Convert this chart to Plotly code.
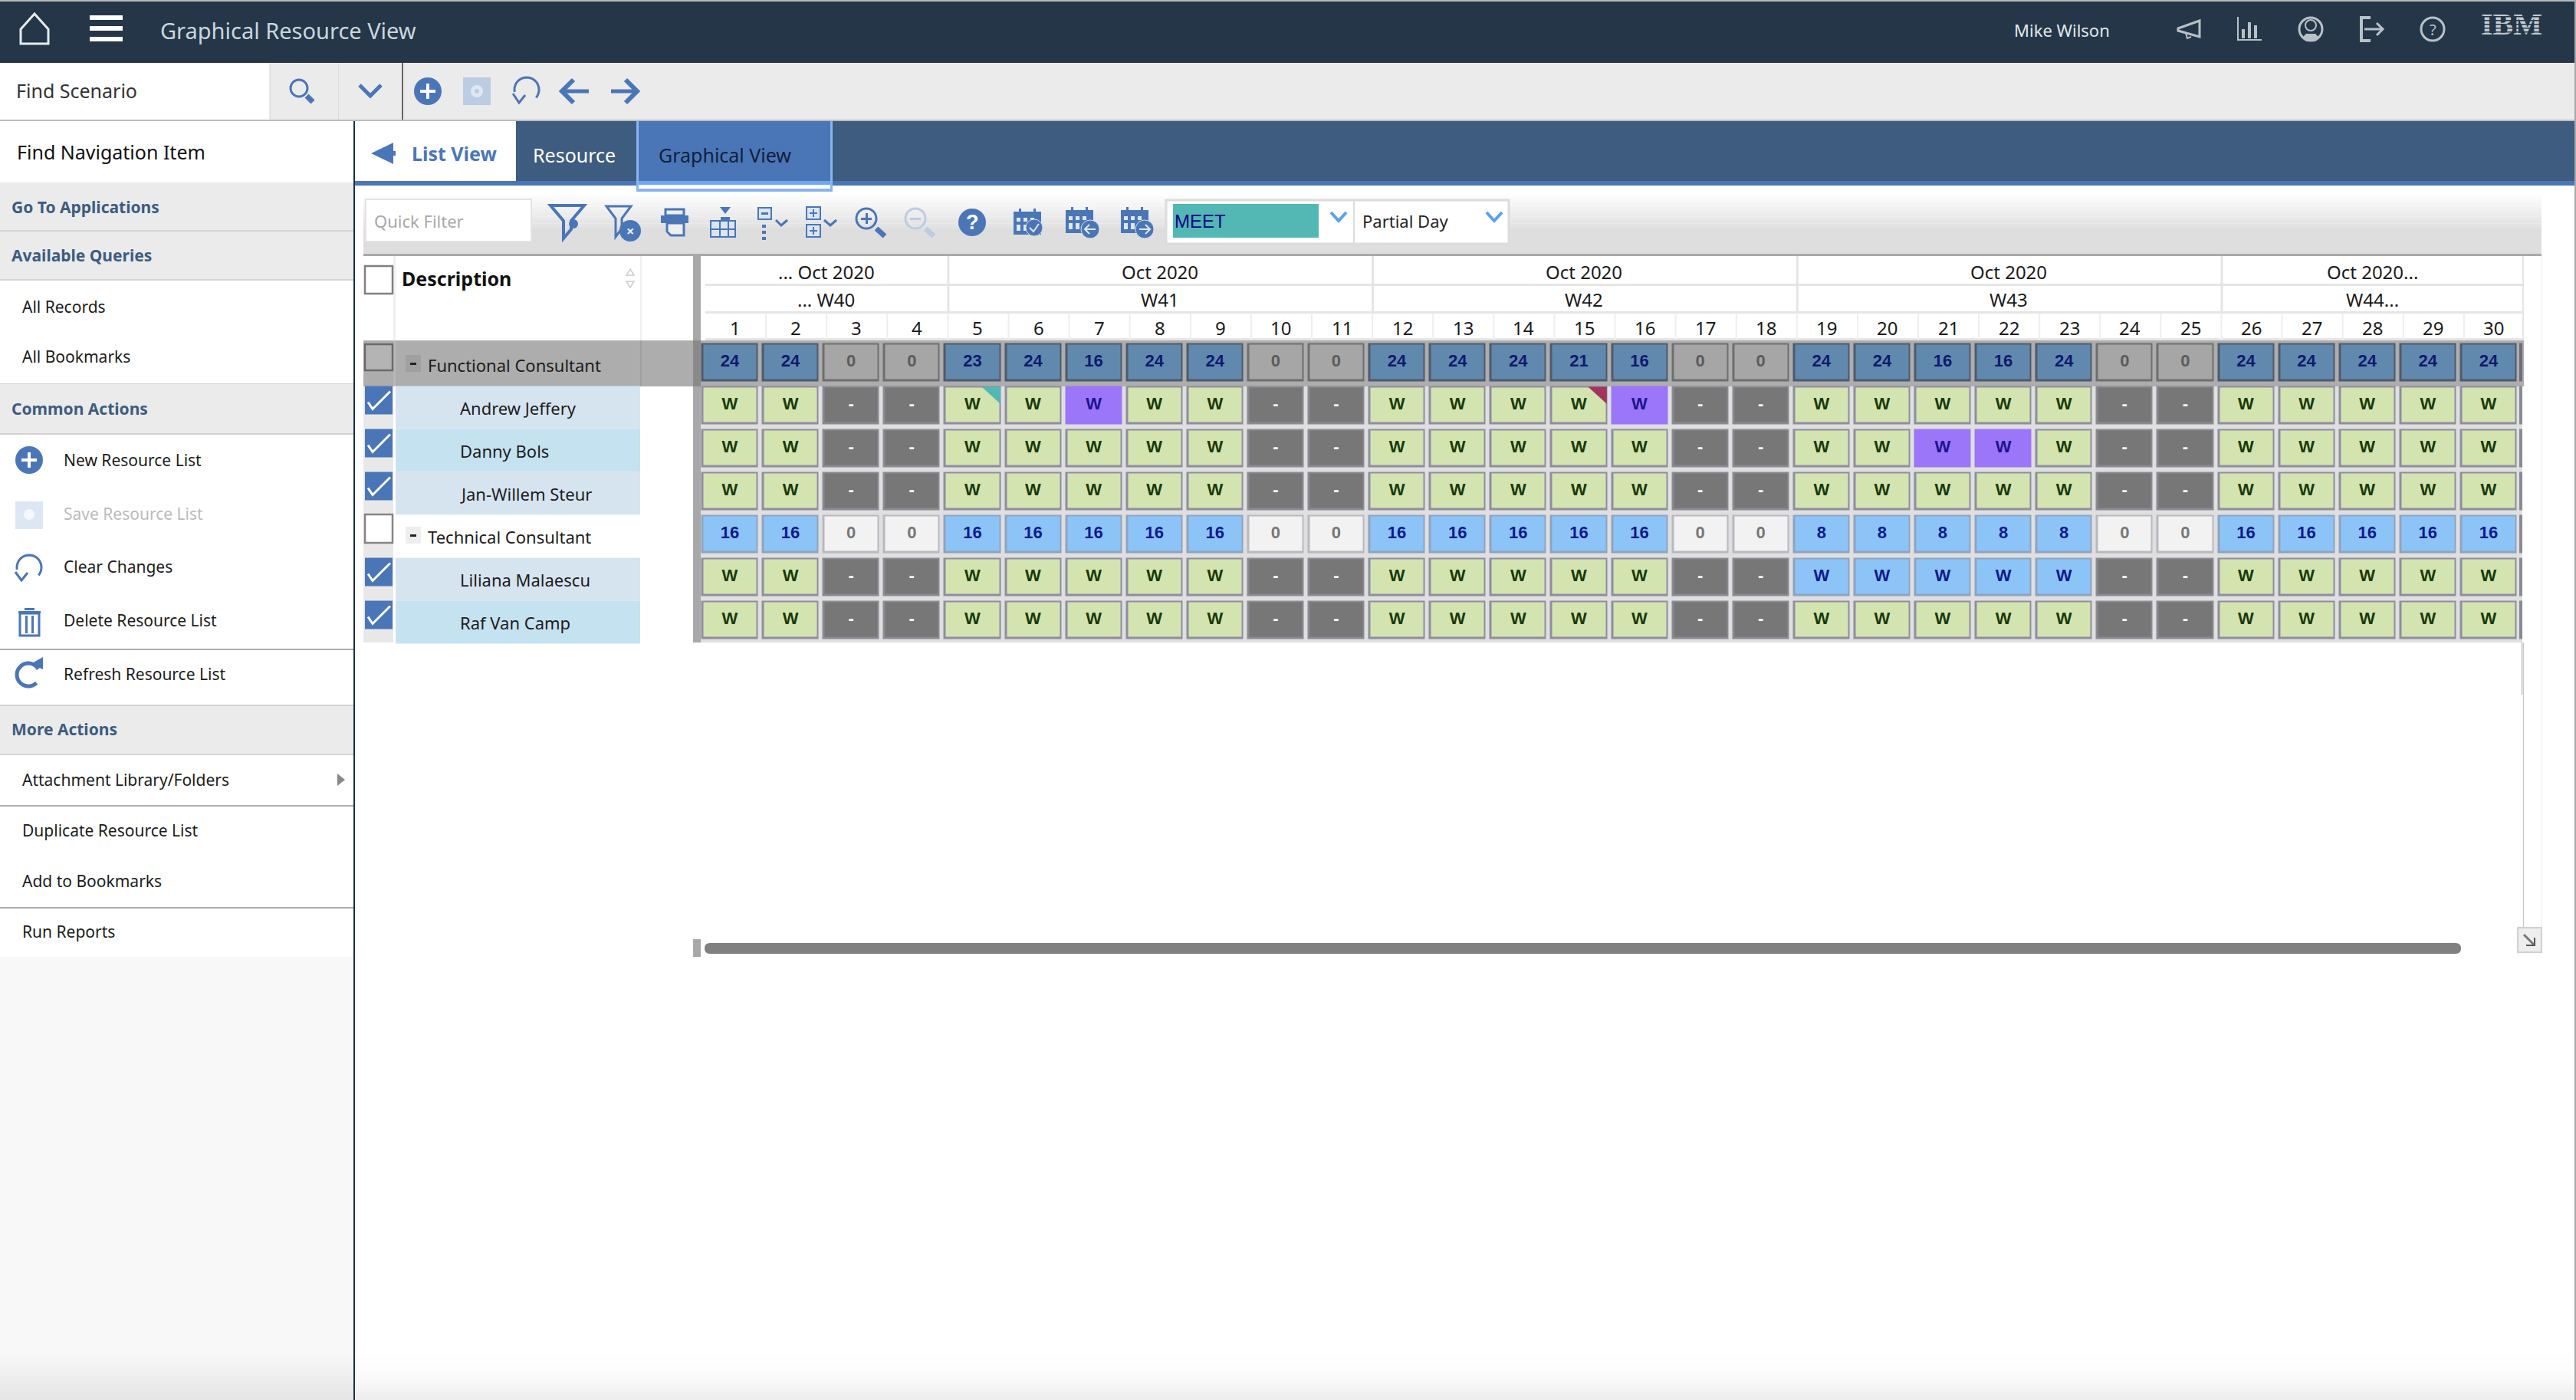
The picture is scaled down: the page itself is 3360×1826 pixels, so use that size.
import numpy as np
import plotly.graph_objects as go

# ---- chart data ----
days = list(range(1, 31))
month_labels = ["... Oct 2020", "Oct 2020", "Oct 2020", "Oct 2020", "Oct 2020..."]
week_labels = ["... W40", "W41", "W42", "W43", "W44..."]
month_spans = [(1, 4), (5, 11), (12, 18), (19, 25), (26, 30)]

row_names = ["Functional Consultant", "Andrew Jeffery", "Danny Bols", "Jan-Willem Steur",
             "Technical Consultant", "Liliana Malaescu", "Raf Van Camp"]
functional = [24, 24, 0, 0, 23, 24, 16, 24, 24, 0, 0, 24, 24, 24, 21, 16, 0, 0,
              24, 24, 16, 16, 24, 0, 0, 24, 24, 24, 24, 24]
technical = [16, 16, 0, 0, 16, 16, 16, 16, 16, 0, 0, 16, 16, 16, 16, 16, 0, 0,
             8, 8, 8, 8, 8, 0, 0, 16, 16, 16, 16, 16]
# W working, - off, M meeting (purple), B booked (blue)
andrew = list("WW--WWMWW--WWWWM--WWWWW--WWWWW")
danny = list("WW--WWWWW--WWWWW--WWMMW--WWWWW")
jan = list("WW--WWWWW--WWWWW--WWWWW--WWWWW")
liliana = list("WW--WWWWW--WWWWW--BBBBB--WWWWW")
raf = list("WW--WWWWW--WWWWW--WWWWW--WWWWW")
flags = [("Andrew Jeffery", 5, "#53b8b4"), ("Andrew Jeffery", 15, "#a2355f")]

nav_sections = ["Go To Applications", "Available Queries", "Common Actions", "More Actions"]
nav_items = ["All Records", "All Bookmarks", "New Resource List", "Save Resource List", "Clear Changes",
             "Delete Resource List", "Refresh Resource List", "Attachment Library/Folders",
             "Duplicate Resource List", "Add to Bookmarks", "Run Reports"]

# ---- colours ----
BLUE = "#4a76b8"
PALE = "#bccde3"
BAR = "#243648"
TAB = "#3d5c80"
UI_FONT = "Noto Sans"
CELL_FONT = "Liberation Sans"

# state code -> fill, border, text colour
states = [("#d3e4b0", "#8f8d9f", "#1a3a0a"),   # W
          ("#777777", "#8a8a94", "#ffffff"),   # off
          ("#9b76f8", "#9b76f8", "#1c1590"),   # meeting
          ("#8cc4f8", "#8fa3c0", "#0e1a8c"),   # technical / booked
          ("#f2f2f2", "#b8b8c0", "#777777"),   # technical zero
          ("#6189ae", "#4f5a6a", "#0e1a6e"),   # functional
          ("#a6a6a6", "#6e6e6e", "#5c5c5c")]   # functional zero


def avail_codes(row):
    return [{"W": 0, "-": 1, "M": 2, "B": 3}[c] for c in row]


z = [[5 if v else 6 for v in functional],
     avail_codes(andrew), avail_codes(danny), avail_codes(jan),
     [3 if v else 4 for v in technical],
     avail_codes(liliana), avail_codes(raf)]
labels = [[str(v) for v in functional],
          ["W" if c != "-" else "-" for c in andrew],
          ["W" if c != "-" else "-" for c in danny],
          ["W" if c != "-" else "-" for c in jan],
          [str(v) for v in technical],
          ["W" if c != "-" else "-" for c in liliana],
          ["W" if c != "-" else "-" for c in raf]]

# ---- page geometry ----
W, H = 3360, 1826
COL = 79.1
ROW = 56
COL0 = 952
ROW0 = 472.5
gx0, gx1 = COL0 - COL / 2, COL0 + COL * 29.5
gy0, gy1 = ROW0 - ROW / 2, ROW0 + ROW * 6.5

shapes = []
notes = []


def rect(x0, y0, x1, y1, fill, line=None, w=0):
    shapes.append(dict(type="rect", xref="x", yref="y", x0=x0, y0=y0, x1=x1, y1=y1, fillcolor=fill,
                       line=dict(color=line or "rgba(0,0,0,0)", width=w), layer="below"))


def circle(cx, cy, r, fill="rgba(0,0,0,0)", line=None, w=0):
    shapes.append(dict(type="circle", xref="x", yref="y", x0=cx - r, y0=cy - r, x1=cx + r, y1=cy + r,
                       fillcolor=fill, line=dict(color=line or "rgba(0,0,0,0)", width=w), layer="below"))


def poly(pts, color=BLUE, w=3, fill=None, close=False):
    d = "M" + " L".join(f"{x:.1f},{y:.1f}" for x, y in pts) + (" Z" if close else "")
    shapes.append(dict(type="path", xref="x", yref="y", path=d, fillcolor=fill or "rgba(0,0,0,0)",
                       line=dict(color=color if w else "rgba(0,0,0,0)", width=w), layer="below"))


def arc(cx, cy, r, a0, a1, n=24):
    a = np.radians(np.linspace(a0, a1, n))
    return list(zip(cx + r * np.cos(a), cy + r * np.sin(a)))


def text(x, y, s, size=22, color="#222222", anchor="left", bold=False, family=UI_FONT):
    notes.append(dict(x=x, y=y, xref="x", yref="y", text=s, showarrow=False, xanchor=anchor, yanchor="middle",
                      font=dict(size=size, color=color, family=family, weight=700 if bold else 400)))


def mix(c0, c1, t):
    a = np.array([int(c0[i:i + 2], 16) for i in (1, 3, 5)])
    b = np.array([int(c1[i:i + 2], 16) for i in (1, 3, 5)])
    m = a + (b - a) * t
    return "rgb(%d,%d,%d)" % tuple(m)


# ---- top bars ----
rect(0, 0, W, 82, BAR)
rect(0, 0, W, 2, "#b8b8b8")
rect(0, 82, W, 156, "#ebebeb")
rect(0, 82, 351, 156, "#ffffff")
rect(0, 156, W, 158, "#bdbdbd")
rect(352, 82, 353, 156, "#dddddd")
rect(441, 82, 442, 156, "#dddddd")
rect(524, 82, 526, 156, "#666666")
rect(461, 158, W, 236, TAB)
rect(461, 158, 673, 236, "#ffffff")
rect(461, 236, W, 242, BLUE)
rect(830, 158, 1086, 250, "#8ab4f0")
rect(833, 158, 1083, 236, BLUE)
rect(838, 158, 1078, 236, BLUE)
rect(833, 236, 1083, 241, "#6fa8f0")
rect(833, 241, 1083, 246, "#ffffff")

text(207, 39, "Graphical Resource View", 29, "#cbd5de")
text(2625, 39, "Mike Wilson", 22, "#e2e7ec")
text(19, 118, "Find Scenario", 25, "#333333")
text(20, 198, "Find Navigation Item", 25, "#111111")
text(535, 200, "List View", 25, BLUE, bold=True)
text(693, 202, "Resource", 25, "#ffffff")
text(857, 202, "Graphical View", 25, "#10203a")

# home, menu
poly([(27, 57), (27, 38), (45, 18), (63, 38), (63, 57)], "#e8ecef", 3, close=True)
for y in (20, 34, 48):
    rect(117, y, 160, y + 6, "#ffffff")

# top right icons
GREY_ICON = "#b9c1c8"
poly([(2841, 37), (2869, 27), (2869, 48), (2841, 40)], GREY_ICON, 3, close=True)
poly([(2851, 43), (2853, 50), (2858, 48)], GREY_ICON, 2)
poly([(2919, 22), (2919, 52), (2950, 52)], GREY_ICON, 2)
rect(2924, 38, 2928, 50, GREY_ICON)
rect(2932, 29, 2936, 50, GREY_ICON)
rect(2940, 33, 2944, 50, GREY_ICON)
circle(3014, 38, 15, line=GREY_ICON, w=3)
circle(3014, 33, 7, line=GREY_ICON, w=2)
poly([(3003, 49), (3008, 44), (3020, 44), (3025, 49), (3020, 54), (3008, 54)], w=0, fill=GREY_ICON, close=True)
poly([(3092, 23), (3080, 23), (3080, 53), (3092, 53)], GREY_ICON, 4)
poly([(3084, 38), (3108, 38)], GREY_ICON, 3)
poly([(3100, 30), (3108, 38), (3100, 46)], GREY_ICON, 3)
circle(3173, 38, 15, line=GREY_ICON, w=3)
text(3173, 38, "?", 20, GREY_ICON, "center")

# scenario toolbar icons
circle(390, 115, 11, line=BLUE, w=3)
poly([(400, 125), (408, 133)], BLUE, 7)
poly([(469, 111), (483, 125), (497, 111)], BLUE, 5)
circle(558, 119, 18, fill=BLUE)
rect(548, 117, 568, 121, "#ffffff")
rect(556, 109, 560, 129, "#ffffff")
rect(604, 101, 640, 137, PALE)
circle(622, 119, 8, fill="#dfe7f1")
circle(622, 119, 3, fill=PALE)
poly(arc(687, 117, 16, 170, 400), BLUE, 3)
poly([(669, 122), (677, 134), (685, 124)], BLUE, 3)
poly([(733, 119), (768, 119)], BLUE, 5)
poly([(748, 104), (733, 119), (748, 134)], BLUE, 6)
poly([(797, 119), (831, 119)], BLUE, 5)
poly([(816, 104), (831, 119), (816, 134)], BLUE, 6)
poly([(513, 186), (484, 200), (513, 214)], w=0, fill=BLUE, close=True)
poly([(498, 200), (516, 200)], BLUE, 6)

# ---- left navigation ----
rect(0, 158, 461, H, "#f8f8f8")
rect(0, 158, 461, 1248, "#ffffff")
for y0, y1 in [(238, 300), (302, 364), (500, 565), (919, 983)]:
    rect(0, y0, 461, y1, "#ebebeb")
    rect(0, y1, 461, y1 + 2, "#d4d4d4")
rect(0, 919, 461, 921, "#d4d4d4")
rect(0, 500, 461, 501, "#d4d4d4")
for y in (846, 1050, 1183):
    rect(0, y, 461, y + 2, "#aeaeae")
for y in (498, 1248):
    pass
rect(461, 158, 463, H, "#1c2f48")

section_y = [270, 333, 533, 951]
for s, y in zip(nav_sections, section_y):
    text(13, y, s, 21, TAB, bold=True)
item_x = [27, 27, 81, 81, 81, 81, 81, 27, 27, 27, 27]
item_y = [400, 465, 600, 670, 739, 809, 879, 1017, 1083, 1149, 1215]
for s, x, y in zip(nav_items, item_x, item_y):
    text(x, y, s, 21, "#bbbbbb" if s.startswith("Save") else "#1c1c1c")
poly([(440, 1009), (450, 1017), (440, 1025)], w=0, fill="#888888", close=True)

circle(38, 600, 18, fill=BLUE)
rect(28, 598, 48, 602, "#ffffff")
rect(36, 590, 40, 610, "#ffffff")
rect(20, 654, 56, 690, "#dde7f3")
circle(38, 671, 7, fill="#f5f8fb")
poly(arc(38, 740, 16, 170, 400), BLUE, 3)
poly([(20, 746), (28, 757), (36, 747)], BLUE, 3)
rect(26, 800, 51, 829, "#ffffff", BLUE, 3)
rect(24, 797, 53, 800, BLUE)
rect(32, 793, 45, 796, BLUE)
rect(33, 803, 36, 826, BLUE)
rect(41, 803, 44, 826, BLUE)
poly(arc(37, 880, 15, 45, 330), BLUE, 5)
poly([(40, 866), (56, 873), (56, 857)], w=0, fill=BLUE, close=True)

# ---- resource toolbar ----
for i in range(24):
    t = i / 23
    y = 252 + t * 50
    rect(474, y, 3315, y + 2.4, mix("#ffffff", "#dcdcdc", t))
rect(474, 302, 3315, 331, "#dedede")
rect(474, 331, 3315, 334, "#a9a9a9")
rect(477, 260, 693, 315, "#ffffff", "#e3e3e3", 2)
text(486, 288, "Quick Filter", 22, "#a9a9a9")

# filter
poly([(718, 268), (762, 268), (745, 288), (745, 299), (735, 311), (735, 288)], BLUE, 4, close=True)
circle(748, 292, 6, fill=BLUE)
# clear filter
poly([(791, 269), (823, 269), (811, 285), (811, 298), (803, 309), (803, 285)], BLUE, 3, close=True)
circle(822, 301, 14, fill=BLUE)
text(822, 301, "×", 18, "#e8eef7", "center", bold=True)
# print
rect(862, 281, 898, 291, BLUE)
rect(868, 273, 892, 281, "rgba(0,0,0,0)", BLUE, 3)
poly([(870, 291), (870, 302), (875, 307), (892, 307), (892, 291)], BLUE, 3, fill="#eeeeee", close=True)
# hierarchy
poly([(939, 270), (953, 270), (946, 279)], w=0, fill=BLUE, close=True)
rect(927, 288, 959, 309, "#dbe5f2", BLUE, 2)
rect(940, 283, 952, 289, BLUE)
for x in (938, 949):
    rect(x, 288, x + 2, 309, BLUE)
rect(927, 298, 959, 300, BLUE)
# collapse
rect(989, 271, 1006, 286, "#dbe5f2", BLUE, 2)
rect(993, 277, 1002, 280, BLUE)
for y in (293, 301, 309):
    rect(994, y, 999, y + 4, BLUE)
poly([(1012, 287), (1019, 294), (1027, 287)], BLUE, 3)
# expand
for y0 in (270, 293):
    rect(1052, y0, 1070, y0 + 16, "#dbe5f2", BLUE, 2)
    rect(1056, y0 + 7, 1066, y0 + 9, BLUE)
    rect(1060, y0 + 3, 1062, y0 + 13, BLUE)
poly([(1075, 287), (1083, 294), (1091, 287)], BLUE, 3)
# zoom in / out
circle(1130, 285, 13, line=BLUE, w=3)
rect(1123, 284, 1137, 287, BLUE)
rect(1129, 278, 1132, 292, BLUE)
poly([(1143, 298), (1154, 308)], BLUE, 7)
circle(1194, 285, 13, line=PALE, w=3)
rect(1187, 284, 1201, 287, PALE)
poly([(1207, 298), (1218, 308)], PALE, 7)
# help
circle(1268, 290, 18, fill=BLUE)
text(1268, 290, "?", 27, "#ffffff", "center", bold=True, family=CELL_FONT)


# calendars
def calendar(x, y):
    rect(x, y + 4, x + 36, y + 34, BLUE)
    rect(x + 7, y, x + 10, y + 6, BLUE)
    rect(x + 26, y, x + 29, y + 6, BLUE)
    for gx in (4, 13, 22):
        rect(x + gx, y + 12, x + gx + 5, y + 17, "#dfe7f1")
        if gx < 22:
            rect(x + gx, y + 21, x + gx + 5, y + 29, "#dfe7f1")


calendar(1322, 272)
circle(1349, 297, 11, fill=BLUE, line="#dedede", w=1)
poly([(1343, 297), (1348, 302), (1355, 292)], "#dfe7f1", 2)
calendar(1390, 270)
circle(1422, 299, 12, fill=BLUE, line="#dedede", w=1)
poly([(1415, 299), (1429, 299)], "#dfe7f1", 2)
poly([(1421, 293), (1415, 299), (1421, 305)], "#dfe7f1", 2)
calendar(1462, 270)
circle(1493, 299, 12, fill=BLUE, line="#dedede", w=1)
poly([(1486, 299), (1500, 299)], "#dfe7f1", 2)
poly([(1494, 293), (1500, 299), (1494, 305)], "#dfe7f1", 2)

# option boxes
rect(1521, 261, 1968, 318, "#ffffff", "#dcdcdc", 3)
rect(1765, 261, 1767, 318, "#dcdcdc")
rect(1530, 266, 1720, 310, "#53b8b4")
text(1530, 288, "MEET", 24, "#00008b", family=CELL_FONT)
text(1775, 288, "Partial Day", 22, "#222222")
poly([(1736, 277), (1746, 288), (1756, 277)], "#5aa0ef", 4)
poly([(1939, 277), (1949, 288), (1959, 277)], "#5aa0ef", 4)

# ---- grid frame ----
rect(474, 334, 3291, 444, "#ffffff")
rect(474, 334, 513, 444, "#ffffff")
rect(513, 334, 516, 444, "#efefef")
rect(835, 334, 837, 444, "#efefef")
rect(474, 444, 904, 504, "#adadad")
rect(513, 444, 516, 504, "#b8b8b8")
rect(835, 444, 837, 504, "#9f9f9f")
rect(474, 504, 513, 838, "#e8e8e8")
rect(513, 504, 516, 838, "#ffffff")
desc_bg = ["#d6e4f0", "#c5e2f0", "#d6e4f0", "#ffffff", "#d6e4f0", "#c5e2f0"]
for r, c in enumerate(desc_bg):
    top = gy0 + ROW * (r + 1) + 3
    rect(516, top, 835, top + ROW, c)
rect(904, 334, 914, 838, "#a8a8a8")
rect(904, 444, 914, 504, "#8a8a8a")
rect(914, 444, 3292, 504, "#adadad")
rect(914, 504, 3290, 838, "#dfdfdf")
rect(3288, 838, 3291, 906, "#dddddd")
rect(3291, 838, 3292, 1210, "#c8c8c8")
rect(3315, 334, 3316, 1210, "#eeeeee")
rect(3358, 0, 3360, H, "#a8a8a8")

# checkboxes
rect(476, 347, 512, 383, "#ffffff", "#808080", 2.5)
rect(476, 449, 512, 483, "#b4b4b4", "#6a6a6a", 2.5)
rect(476, 671, 512, 708, "#ffffff", "#858585", 2.5)
for r in (1, 2, 3, 5, 6):
    top = gy0 + ROW * r + 3
    rect(476, top, 512, top + 37, BLUE)
    poly([(480, top + 21), (486, top + 30), (509, top + 7)], "#ffffff", 3)

rect(529, 463, 549, 485, "#a0a0a0")
rect(535, 473, 543, 476, "#222222")
rect(529, 687, 549, 709, "#eeeeee")
rect(535, 697, 543, 700, "#222222")
poly([(817, 359), (822, 351), (827, 359)], "#cccccc", 1.5, close=True)
poly([(817, 367), (822, 375), (827, 367)], "#cccccc", 1.5, close=True)

text(522, 363, "Description", 25, "#111111", bold=True)
for r, name in enumerate(row_names):
    y = ROW0 + ROW * r + 3
    x = 556 if "Consultant" in name else 598
    text(x, y, name, 22, "#1c1c1c")

# header rules
HEAD0 = 920
rect(HEAD0, 370, 3291, 373, "#e5e5e5")
rect(HEAD0, 406, 3291, 409, "#e5e5e5")
rect(HEAD0, 441, 3291, 444, "#e5e5e5")
rect(3290, 334, 3292, 444, "#e5e5e5")
for d in days[1:]:
    x = HEAD0 + COL * (d - 1)
    rect(x - 1, 408, x + 1, 444, "#eeeeee")
for first, last in month_spans[1:]:
    x = HEAD0 + COL * (first - 1)
    rect(x - 1, 334, x + 2, 408, "#e5e5e5")

# next day's cell just peeks out past the last column
for r in range(len(row_names)):
    y = ROW0 + ROW * r
    rect(3286, y - 25, 3290, y + 25, "#6e6e78" if r == 0 else "#8a8a94")

# scrollbars
rect(904, 1225, 914, 1248, "#a8a8a8")
shapes.append(dict(type="path", xref="x", yref="y", layer="below", fillcolor="#808080",
                   line=dict(color="rgba(0,0,0,0)", width=0),
                   path="M926,1230 L3203,1230 Q3210,1230 3210,1237 Q3210,1244 3203,1244 L926,1244 "
                        "Q919,1244 919,1237 Q919,1230 926,1230 Z"))
rect(3284, 1210, 3315, 1242, "#eeeeee", "#d0d0d0", 2)
poly([(3292, 1219), (3305, 1232)], "#777777", 3)
poly([(3295, 1233), (3306, 1233), (3306, 1223)], "#555555", 2)

# faint fade along the bottom of the window
for i in range(12):
    t = (i + 1) / 12
    y = 1766 + i * 5
    rect(0, y, 461, y + 5, mix("#f8f8f8", "#e6e6e6", t))
    rect(463, y, 3358, y + 5, mix("#ffffff", "#eeeeee", t * t))

# IBM logo stripes sit above the trace text
for y in range(21, 52, 5):
    shapes.append(dict(type="rect", xref="x", yref="y", x0=3236, x1=3316, y0=y, y1=y + 1.6,
                       fillcolor=BAR, line=dict(color=BAR, width=0), layer="above"))

# ---- header labels, positioned on the day axis ----
for label, week, (first, last) in zip(month_labels, week_labels, month_spans):
    cx = (first + last) / 2 + 7 / COL
    notes.append(dict(x=cx, y=354, xref="x2", yref="y", text=label, showarrow=False, yanchor="middle",
                      font=dict(size=24, color="#1a1a1a", family=UI_FONT)))
    notes.append(dict(x=cx, y=390, xref="x2", yref="y", text=week, showarrow=False, yanchor="middle",
                      font=dict(size=24, color="#1a1a1a", family=UI_FONT)))
for d in days:
    notes.append(dict(x=d + 7 / COL, y=427, xref="x2", yref="y", text=str(d), showarrow=False, yanchor="middle",
                      font=dict(size=24, color="#1a1a1a", family=UI_FONT)))

# ---- figure ----
fig = go.Figure()
rows_idx = list(range(len(row_names)))


def scale(i):
    return [[k / (len(states) - 1), s[i]] for k, s in enumerate(states)]


# border layer, then the fill layer with wider gaps
for cscale, xgap, ygap in [(scale(1), 5, 6), (scale(0), 10, 11)]:
    fig.add_trace(go.Heatmap(x=days, y=rows_idx, z=z, zmin=0, zmax=len(states) - 1, colorscale=cscale,
                             xgap=xgap, ygap=ygap, showscale=False, hoverinfo="skip", xaxis="x2", yaxis="y2"))

xs, ys, ts, cs = [], [], [], []
for r in rows_idx:
    for k, d in enumerate(days):
        xs.append(d)
        ys.append(r)
        ts.append(labels[r][k])
        cs.append(states[z[r][k]][2])
fig.add_trace(go.Scatter(x=xs, y=ys, text=ts, mode="text", textposition="middle center",
                         textfont=dict(size=22, color=cs, family=CELL_FONT, weight=700),
                         hoverinfo="skip", showlegend=False, xaxis="x2", yaxis="y2"))

# corner flags on a few cells
for name, day, colour in flags:
    r = row_names.index(name)
    fig.add_trace(go.Scatter(x=[day + 0.15, day + 0.46, day + 0.46, day + 0.15], y=[r - 0.43, r - 0.43, r - 0.03, r - 0.43],
                             mode="lines", fill="toself", fillcolor=colour, line=dict(width=0, color=colour),
                             hoverinfo="skip", showlegend=False, xaxis="x2", yaxis="y2"))

fig.add_trace(go.Scatter(x=[3276], y=[35], text=["IBM"], mode="text", textposition="middle center",
                         textfont=dict(size=40, color="#c3cad0", family="Liberation Serif", weight=700),
                         hoverinfo="skip", showlegend=False, xaxis="x", yaxis="y"))

fig.update_layout(
    width=W, height=H, autosize=False, margin=dict(l=0, r=0, t=0, b=0), showlegend=False,
    paper_bgcolor="#ffffff", plot_bgcolor="rgba(0,0,0,0)", shapes=shapes, annotations=notes,
    xaxis=dict(range=[0, W], domain=[0, 1], visible=False, fixedrange=True),
    yaxis=dict(range=[H, 0], domain=[0, 1], visible=False, fixedrange=True),
    xaxis2=dict(range=[0.5, 30.5], domain=[gx0 / W, gx1 / W], anchor="y2", visible=False, fixedrange=True),
    yaxis2=dict(range=[6.5, -0.5], domain=[1 - gy1 / H, 1 - gy0 / H], anchor="x2", visible=False, fixedrange=True),
)

fig.write_html("out.html", config=dict(displayModeBar=False),
               post_script="document.body.style.margin='0';document.body.style.overflow='hidden';")
